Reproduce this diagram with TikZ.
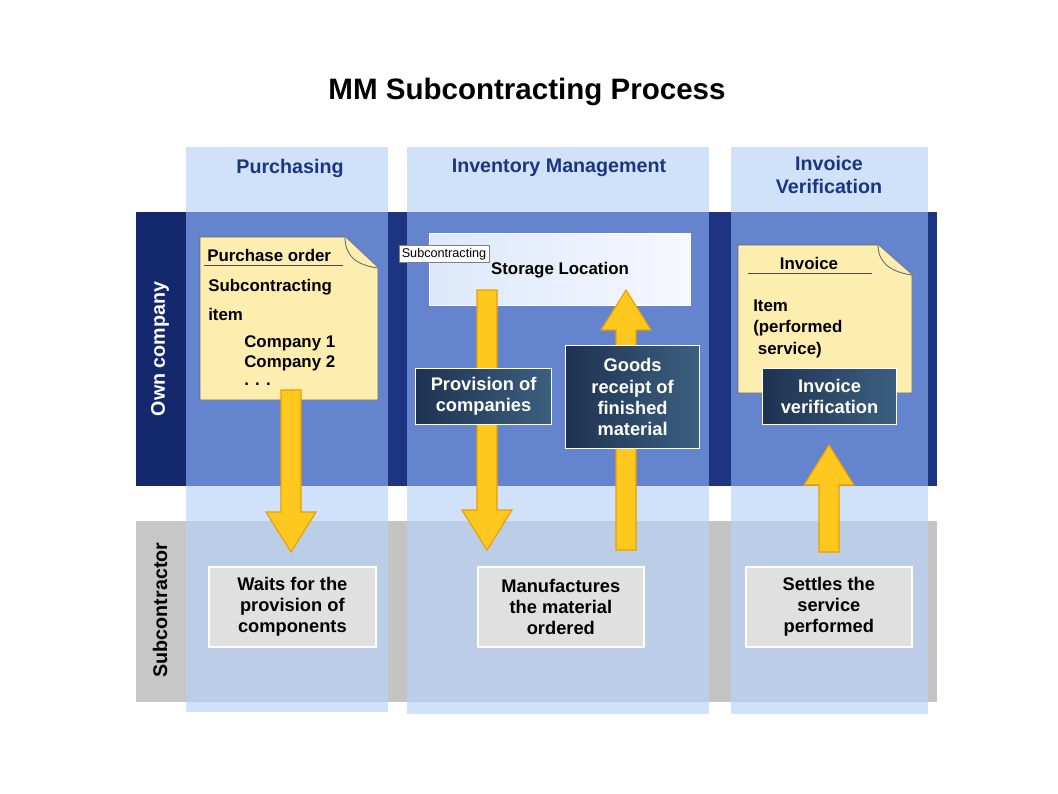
\documentclass[tikz,border=0pt]{standalone}
\usepackage{fontspec}
\setmainfont{Liberation Sans}
\definecolor{lane}{RGB}{208,225,250}
\definecolor{navy}{RGB}{28,52,130}
\definecolor{navyd}{RGB}{20,40,110}
\definecolor{ownl}{RGB}{100,132,205}
\definecolor{subg}{RGB}{196,196,196}
\definecolor{subl}{RGB}{188,205,232}
\definecolor{hdrc}{RGB}{26,54,130}
\definecolor{dka}{RGB}{30,50,80}
\definecolor{dkb}{RGB}{60,96,128}
\definecolor{yel}{RGB}{255,200,30}
\definecolor{yelb}{RGB}{232,160,0}
\definecolor{docc}{RGB}{253,238,176}
\definecolor{slc}{RGB}{220,232,250}
\begin{document}
\begin{tikzpicture}[x=0.025cm,y=-0.025cm,
  hdr/.style={font=\bfseries\fontsize{14}{16}\selectfont,text=hdrc,align=center},
  dk/.style={draw=white,line width=0.8pt,left color=dka,right color=dkb,text=white,font=\bfseries\fontsize{13}{15}\selectfont,align=center,anchor=north west,inner sep=0pt},
  gb/.style={draw=white,line width=1.2pt,fill=black!12,font=\bfseries\fontsize{13}{15}\selectfont,align=center,anchor=north west,inner sep=0pt},
  yl/.style={fill=yel,draw=yelb,line width=0.8pt},
  doc/.style={fill=docc,draw=black!60,line width=0.6pt},
  tx/.style={font=\bfseries\fontsize{12}{15}\selectfont,anchor=west,inner sep=0pt}]
\useasboundingbox (0,0) rectangle (1058,794);
\fill[white] (0,0) rectangle (1058,794);
\node[font=\bfseries\fontsize{21}{24}\selectfont] (title) at (527,92) {MM Subcontracting Process};
% bands
\fill[navy] (136,212) rectangle (937,486);
\fill[subg] (136,521) rectangle (937,702);
\foreach \a/\b/\c in {186/388/712,407/709/714,731/928/714}{
  \fill[lane] (\a,147) rectangle (\b,\c);
  \fill[ownl] (\a,212) rectangle (\b,486);
  \fill[subl] (\a,521) rectangle (\b,702);
}
\fill[navyd] (136,212) rectangle (186,486);
\fill[black!22] (136,521) rectangle (186,702);
\node[rotate=90,text=white,font=\bfseries\fontsize{14}{16}\selectfont] (own) at (160,349) {Own company};
\node[rotate=90,font=\bfseries\fontsize{14}{16}\selectfont] (sub) at (160,610) {Subcontractor};
\node[hdr] (h1) at (290,168) {Purchasing};
\node[hdr] (h2) at (559,168) {Inventory Management};
\node[hdr] (h3) at (829,175) {Invoice\\Verification};
% yellow arrows
\newcommand\ydown[3]{\draw[yl] (#1-10,#2) -- (#1+10,#2) -- (#1+10,#3-40) -- (#1+25,#3-40) -- (#1,#3) -- (#1-25,#3-40) -- (#1-10,#3-40) -- cycle;}
\newcommand\yup[3]{\draw[yl] (#1-10,#2) -- (#1+10,#2) -- (#1+10,#3+40) -- (#1+25,#3+40) -- (#1,#3) -- (#1-25,#3+40) -- (#1-10,#3+40) -- cycle;}
% purchase order doc
\draw[doc] (200,237) -- (345,237) -- (378,268) -- (378,400) -- (200,400) -- cycle;
\draw[doc] (345,237) .. controls (345,255) and (355,265) .. (378,268);
\node[tx] (po) at (207,255) {Purchase order};
\draw[black!70] (204,265) -- (343,265);
\node[tx] (po1) at (208,287) {Subcontracting};
\node[tx] (po2) at (208,314) {item};
\node[tx] (po3) at (244,343) {Company 1};
\node[tx] (po4) at (244,363) {Company 2};
\node[tx] (po5) at (244,384) {. . .};
% storage
\node[draw=white,left color=slc,right color=white!80!blue!15,fill=slc,minimum width=261*0.025cm,minimum height=72*0.025cm,anchor=north west] (sl) at (429,233) {};
\node[font=\bfseries\fontsize{12}{14}\selectfont] (slt) at (560,270) {Storage Location};
\node[draw=black!50,fill=white,font=\fontsize{9}{10}\selectfont,inner sep=2pt] (tag) at (444,254) {Subcontracting};
% invoice doc
\draw[doc] (738,245) -- (878,245) -- (912,275) -- (912,393) -- (738,393) -- cycle;
\draw[doc] (878,245) .. controls (878,262) and (890,272) .. (912,275);
\node[font=\bfseries\fontsize{12}{14}\selectfont] (inv) at (809,263) {Invoice};
\draw[black!70] (748,273) -- (872,273);
\node[tx,align=left,anchor=north west] (invi) at (753,300) {Item\\(performed\\\ service)};
% arrows
\ydown{291}{390}{552}
\ydown{487}{290}{550}
\yup{626}{550}{290}
\yup{829}{552}{445}
% dark boxes
\node[dk,minimum width=136*0.025cm,minimum height=56*0.025cm] (pc) at (415,368) {Provision of\\companies};
\node[dk,minimum width=134*0.025cm,minimum height=103*0.025cm] (gr) at (565,345) {Goods\\receipt of\\finished\\material};
\node[dk,minimum width=134*0.025cm,minimum height=56*0.025cm] (iv) at (762,368) {Invoice\\verification};
% gray boxes
\node[gb,minimum width=167*0.025cm,minimum height=80*0.025cm] (g1) at (208,566) {Waits for the\\provision of\\components};
\node[gb,minimum width=166*0.025cm,minimum height=80*0.025cm] (g2) at (477,566) {Manufactures\\the material\\ordered};
\node[gb,minimum width=166*0.025cm,minimum height=80*0.025cm] (g3) at (745,566) {Settles the\\service\\performed};
\end{tikzpicture}
\end{document}
